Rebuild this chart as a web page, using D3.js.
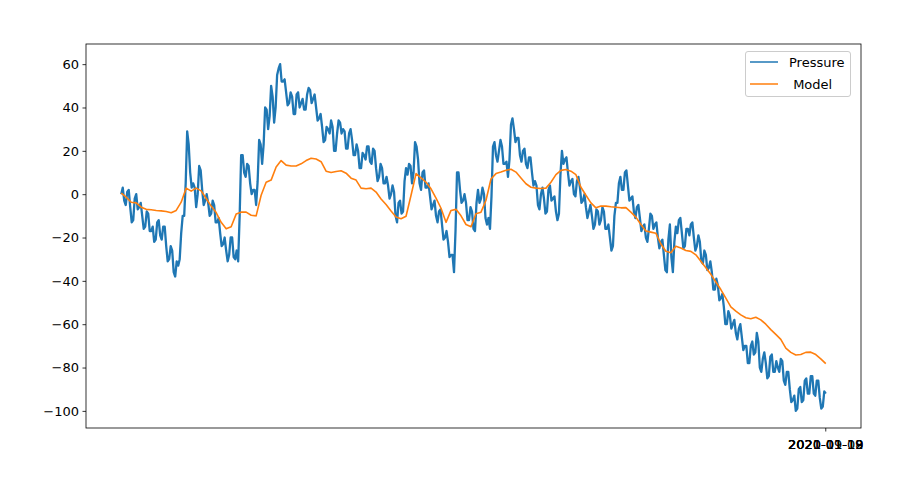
<!DOCTYPE html>
<html><head><meta charset="utf-8">
<script src="https://cdn.jsdelivr.net/npm/d3@7"></script>
<style>body{margin:0;background:#fff;}svg{display:block;font-family:"DejaVu Sans",sans-serif;}</style>
</head><body><svg id="c" width="917" height="477"></svg>
<script>
// Pressure sampled every 1.5 time units (t = 0..705)
const pressure = [
0,3,-3,-5,1,2,-6,-13,-12,-2,0,-7,-6,-4,-10,-16,-15,-8,-9,-17,
-17,-15,-22,-21,-13,-12,-19,-21,-15,-15,-24,-31,-30,-24,-26,-36,-38,-31,-33,-30,
-18,-10,-10,5,29,23,10,3,5,3,-6,0,13,11,2,-5,-3,0,-4,-10,
-9,-3,-5,-13,-13,-11,-18,-24,-23,-20,-26,-31,-28,-20,-20,-29,-30,-26,-31,-10,
18,18,10,8,14,13,5,0,2,2,-5,6,25,23,14,23,40,39,30,36,
50,45,33,40,55,58,60,52,52,53,47,41,42,47,45,37,37,46,47,40,
42,44,39,39,46,49,48,42,44,46,40,34,35,37,31,24,25,31,30,28,
34,31,20,20,28,34,33,28,30,29,21,21,28,30,25,18,18,23,20,12,
12,19,18,16,22,22,15,14,21,20,12,6,8,14,12,5,5,8,4,-2,
0,4,1,-10,-13,-4,-3,-9,-8,6,12,9,14,13,5,10,24,22,16,5,
2,10,11,3,3,5,-1,-7,-5,-3,-10,-13,-8,-7,-14,-21,-20,-17,-22,-29,
-28,-28,-36,-17,10,10,2,-4,-3,0,-4,-12,-12,-6,-8,-16,-17,-4,2,-4,
-2,3,0,-11,-14,-11,-16,-1,22,24,18,15,20,25,22,14,14,15,8,16,
32,35,30,24,26,26,18,15,20,21,14,12,17,17,10,4,6,4,-5,-7,
0,3,-2,-9,-8,2,4,-3,-2,-1,-8,-12,-9,9,20,14,16,17,10,4,
6,7,0,-1,6,8,3,-4,-3,0,-6,-11,-8,-5,-10,-16,-14,-7,-8,-14,
-12,-6,-8,-16,-16,-14,-20,-26,-24,-10,-4,-4,5,8,2,2,10,11,4,-3,
-2,-1,-8,-11,-6,-5,-11,-17,-15,-14,-20,-22,-16,-9,-10,-16,-14,-13,-20,-25,
-22,-21,-28,-35,-36,-21,-14,-29,-36,-22,-15,-18,-12,-11,-18,-25,-24,-16,-16,-19,
-14,-13,-20,-26,-24,-19,-22,-31,-32,-26,-28,-35,-34,-31,-36,-44,-44,-39,-42,-49,
-48,-46,-52,-60,-60,-54,-56,-62,-60,-58,-64,-67,-62,-60,-66,-72,-70,-70,-78,-78,
-70,-68,-74,-73,-64,-68,-80,-82,-76,-73,-78,-85,-84,-75,-74,-82,-82,-77,-80,-82,
-76,-77,-86,-88,-82,-82,-90,-96,-95,-93,-100,-99,-90,-89,-96,-95,-86,-85,-92,-92,
-84,-84,-92,-93,-86,-86,-94,-99,-98,-91,-92];
// Model sampled every 5 time units
const model = [0.5,-1.4,-3.7,-4,-6,-7,-7.2,-7.5,-7.7,-8,-8.6,-7.5,-3.7,2.8,1.4,2.8,1.5,-2,-5.5,-8.5,
-13,-16,-15,-9.2,-8.3,-8.3,-9.7,-10,-0.5,5.5,6.5,12.5,15.5,13.4,13,13,14,15.5,16.6,16.2,
15,10.6,10,10.5,10.8,9.7,7.4,6.5,2.8,2.5,2.8,1,-2.2,-4.8,-7.8,-10.5,-11.3,-10.2,-0.5,9.5,
7.5,5.5,2.5,-1.8,-6.5,-13,-7.5,-7,-10,-14,-15,-9,-8.3,-2.8,7,9.5,10.2,11,11.5,10.2,
7.5,4.8,3.2,2.8,2.6,2.8,5.5,9,11,11.4,10.6,9,3.2,-0.5,-4,-6.3,-5.5,-5.5,-5.8,-6,
-6.3,-6.2,-8.3,-10.6,-14,-17,-17.5,-18,-23,-26.3,-27,-24,-24.8,-26,-26.4,-28,-31,-34,-37,-40.5,
-44,-48,-52,-54,-55.7,-57,-57.5,-56.8,-58,-60,-62.5,-64.7,-67,-71,-73,-74.2,-74,-73,-72.9,-74,
-76,-78.2];
const pressureStep = 1.5, modelStep = 5;
const yTicks = [60,40,20,0,-20,-40,-60,-80,-100];
const xTickLabels = ["2020-09-08","2021-01-12","2021-01-19","2020-11-19"];
const seriesNames = ["Pressure"," Model"];
const colors = ["#1f77b4","#ff7f0e"];

const svg = d3.select("#c");
const L=86, R=861, T=44, B=428;
const tMax = (pressure.length-1)*pressureStep;
const pad = tMax*0.05;
const x = d3.scaleLinear().domain([-pad, tMax+pad]).range([L,R]);
const y = d3.scaleLinear().domain([-107.9, 69.3]).range([B,T]);

const pLine = d3.line().x((d,i)=>x(i*pressureStep)).y(d=>y(d));
const mLine = d3.line().x((d,i)=>x(i*modelStep)).y(d=>y(d));
svg.append("path").attr("d",pLine(pressure)).attr("fill","none").attr("stroke",colors[0]).attr("stroke-width",2.3).attr("stroke-linejoin","round");
svg.append("path").attr("d",mLine(model)).attr("fill","none").attr("stroke",colors[1]).attr("stroke-width",1.6).attr("stroke-linejoin","round");

// frame
svg.append("rect").attr("x",L).attr("y",T).attr("width",R-L).attr("height",B-T).attr("fill","none").attr("stroke","#000").attr("stroke-width",0.8);

// y axis
const ya = svg.append("g").attr("transform",`translate(${L},0)`)
  .call(d3.axisLeft(y).tickValues(yTicks).tickSize(3.5).tickPadding(3.5).tickFormat(d=>d3.format("")(d).replace("-","\u2212")));
ya.select(".domain").remove();
ya.selectAll("text").attr("font-size",13).attr("font-family","DejaVu Sans").attr("fill","#000");
ya.selectAll("line").attr("stroke","#000").attr("stroke-width",0.8);

// x axis: all date labels overlap at one tick
const xa = svg.append("g").attr("transform",`translate(0,${B})`);
xa.append("line").attr("x1",x(tMax)).attr("x2",x(tMax)).attr("y1",0).attr("y2",3.5).attr("stroke","#000").attr("stroke-width",0.8);
xTickLabels.forEach(s=>{
  xa.append("text").attr("x",x(tMax)).attr("y",21).attr("text-anchor","middle").attr("font-size",13).attr("fill","#000").text(s);
});

// legend
const lg = svg.append("g");
lg.append("rect").attr("x",745.5).attr("y",51.5).attr("width",105).attr("height",45).attr("rx",2.5).attr("fill","#fff").attr("fill-opacity",0.8).attr("stroke","#ccc").attr("stroke-width",1);
seriesNames.forEach((n,i)=>{
  const yy = 62 + i*22;
  lg.append("line").attr("x1",750).attr("x2",778).attr("y1",yy).attr("y2",yy).attr("stroke",colors[i]).attr("stroke-width",1.5);
  lg.append("text").attr("x",789).attr("y",yy+5).attr("font-size",13).attr("fill","#000").attr("xml:space","preserve").style("white-space","pre").text(n);
});
</script></body></html>
